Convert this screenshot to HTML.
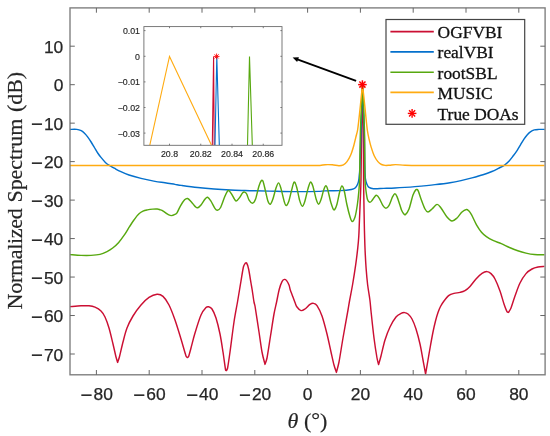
<!DOCTYPE html>
<html><head><meta charset="utf-8"><title>Normalized Spectrum</title>
<style>html,body{margin:0;padding:0;background:#fff}svg{display:block}</style></head>
<body>
<svg width="550" height="436" viewBox="0 0 550 436">
<rect width="550" height="436" fill="#fff"/>
<g fill="none" stroke-width="1.45" stroke-linejoin="round" stroke-linecap="butt">
<path stroke="#CB0F33" d="M70.00,306.60C71.83,306.47 77.83,305.93 81.00,305.80C84.17,305.67 86.67,305.57 89.00,305.80C91.33,306.03 93.00,306.33 95.00,307.20C97.00,308.07 99.33,309.37 101.00,311.00C102.67,312.63 103.77,314.39 105.00,317.00C106.33,319.83 107.67,323.51 109.00,328.00C110.33,332.50 111.83,339.17 113.00,344.00C114.17,348.83 115.23,353.93 116.00,357.00C116.55,359.19 117.28,361.32 117.60,362.40C117.96,361.32 118.82,359.20 119.40,357.00C120.30,353.60 121.73,346.83 123.00,342.00C124.27,337.17 125.33,332.33 127.00,328.00C128.67,323.67 130.67,319.83 133.00,316.00C135.33,312.17 138.33,308.10 141.00,305.00C143.67,301.90 146.33,299.20 149.00,297.40C151.67,295.60 154.67,294.37 157.00,294.20C159.33,294.03 161.10,294.69 163.00,296.40C165.00,298.20 167.10,301.26 169.00,305.00C171.00,308.93 173.00,314.33 175.00,320.00C177.00,325.67 179.17,333.00 181.00,339.00C182.83,345.00 184.95,352.90 186.00,356.00C186.26,356.78 187.04,357.28 187.30,357.60C187.56,357.38 188.36,357.14 188.60,356.50C189.22,354.90 190.07,351.41 191.00,348.00C192.07,344.08 193.33,338.50 195.00,333.00C196.67,327.50 199.17,319.23 201.00,315.00C202.42,311.72 204.73,308.97 206.00,307.60C206.74,306.80 207.60,306.57 208.60,306.80C209.60,307.03 211.11,307.65 212.00,309.00C213.23,310.87 214.80,314.25 216.00,318.00C217.33,322.17 218.83,328.33 220.00,334.00C221.17,339.67 222.07,346.00 223.00,352.00C223.93,358.00 225.00,366.90 225.60,370.00C225.69,370.46 226.40,370.48 226.60,370.60C226.80,370.08 227.40,369.10 227.60,368.00C228.17,364.90 229.11,358.41 230.00,352.00C231.07,344.33 232.75,330.33 234.00,322.00C235.20,313.97 236.58,307.33 237.50,302.00C238.32,297.20 238.92,293.50 239.50,290.00C240.08,286.50 240.39,284.60 241.00,281.00C241.65,277.17 242.73,269.90 243.40,267.00C243.74,265.54 244.47,264.27 245.00,263.60C245.43,263.07 246.22,262.43 246.60,263.00C247.20,263.90 248.06,266.53 248.60,269.00C249.33,272.33 250.40,279.50 251.00,283.00C251.48,285.80 251.76,287.19 252.20,290.00C252.70,293.17 253.53,299.33 254.00,302.00C254.28,303.62 254.73,304.37 255.00,306.00C255.83,311.00 257.83,324.33 259.00,332.00C260.17,339.67 261.00,346.60 262.00,352.00C262.93,357.02 264.40,361.92 265.00,364.40C265.40,363.12 266.49,360.63 267.00,358.00C267.92,353.27 269.33,343.33 270.50,336.00C271.67,328.67 272.98,319.67 274.00,314.00C274.87,309.17 275.73,306.08 276.60,302.00C277.47,297.92 278.30,292.90 279.20,289.50C280.06,286.26 281.13,283.28 282.00,281.60C282.60,280.44 283.63,279.57 284.40,279.40C285.17,279.23 285.96,279.83 286.60,280.60C287.37,281.53 288.38,283.43 289.00,285.00C289.62,286.57 289.80,288.42 290.30,290.00C290.80,291.58 291.32,292.70 292.00,294.50C292.78,296.58 294.17,300.42 295.00,302.50C295.73,304.33 296.00,305.65 297.00,307.00C298.00,308.35 299.67,310.27 301.00,310.60C302.33,310.93 303.58,309.98 305.00,309.00C306.50,307.97 308.57,305.33 310.00,304.40C311.25,303.58 312.43,303.20 313.60,303.40C314.77,303.60 316.10,304.25 317.00,305.60C318.40,307.70 320.47,311.65 322.00,316.00C323.67,320.73 325.50,328.00 327.00,334.00C328.50,340.00 329.83,346.83 331.00,352.00C332.17,357.17 333.10,361.60 334.00,365.00C334.80,368.01 335.92,370.92 336.40,372.40C336.92,370.32 338.19,366.21 339.00,362.00C340.10,356.27 341.50,346.67 343.00,338.00C344.50,329.33 346.88,316.33 348.00,310.00C348.70,306.00 348.98,303.99 349.70,300.00C350.47,295.75 351.62,290.27 352.60,284.50C353.58,278.73 354.73,271.53 355.60,265.40C356.47,259.27 357.27,252.60 357.80,247.70C358.31,243.03 358.55,239.95 358.80,236.00C359.05,232.05 359.10,228.80 359.30,224.00C359.53,218.33 359.92,209.33 360.20,202.00C360.48,194.67 360.83,188.80 361.00,180.00C361.23,168.00 361.35,145.88 361.60,130.00C361.85,114.12 362.32,93.76 362.50,84.70C362.66,93.76 363.12,114.12 363.30,130.00C363.48,145.88 363.50,168.00 363.60,180.00C363.67,188.80 363.78,194.67 363.90,202.00C364.02,209.33 364.18,218.33 364.30,224.00C364.40,228.80 364.47,231.55 364.60,236.00C364.73,240.45 364.85,245.32 365.10,250.70C365.35,256.08 365.68,262.67 366.10,268.30C366.52,273.93 366.97,279.22 367.60,284.50C368.23,289.78 369.33,295.58 369.90,300.00C370.46,304.39 370.53,306.60 371.00,311.00C371.68,317.33 373.00,330.17 374.00,338.00C375.00,345.83 376.23,353.57 377.00,358.00C377.46,360.68 378.28,363.28 378.60,364.60C379.08,362.88 380.10,359.46 381.00,356.00C382.07,351.90 383.50,344.83 385.00,340.00C386.50,335.17 388.17,330.83 390.00,327.00C391.83,323.17 394.17,319.27 396.00,317.00C397.55,315.08 399.57,314.13 401.00,313.40C402.31,312.73 403.43,312.50 404.60,312.60C405.77,312.70 406.89,313.04 408.00,314.00C409.23,315.07 410.79,316.74 412.00,319.00C413.33,321.50 414.69,324.90 416.00,329.00C417.33,333.17 418.83,338.83 420.00,344.00C421.17,349.17 422.07,355.00 423.00,360.00C423.93,365.00 425.08,371.20 425.60,374.00C426.08,371.20 427.18,364.75 428.00,360.00C428.82,355.25 429.67,350.17 430.50,345.50C431.33,340.83 432.17,336.08 433.00,332.00C433.83,327.92 434.67,324.25 435.50,321.00C436.33,317.75 437.17,314.92 438.00,312.50C438.83,310.08 439.50,308.42 440.50,306.50C441.50,304.58 442.58,302.85 444.00,301.00C445.42,299.15 447.33,296.67 449.00,295.40C450.67,294.13 452.17,293.90 454.00,293.40C455.83,292.90 458.17,292.87 460.00,292.40C461.83,291.93 463.33,291.60 465.00,290.60C466.67,289.60 468.20,288.30 470.00,286.40C471.83,284.47 474.00,281.17 476.00,279.00C478.00,276.83 480.17,274.63 482.00,273.40C483.76,272.21 485.50,271.57 487.00,271.60C488.50,271.63 489.69,272.39 491.00,273.60C492.33,274.83 493.77,276.61 495.00,279.00C496.50,281.90 498.50,286.83 500.00,291.00C501.50,295.17 502.83,300.57 504.00,304.00C505.05,307.09 506.23,310.20 507.00,311.60C507.34,312.23 508.28,312.24 508.60,312.40C509.08,311.52 510.27,309.87 511.00,308.00C512.07,305.27 513.50,300.17 515.00,296.00C516.50,291.83 518.17,286.73 520.00,283.00C521.83,279.27 524.00,275.93 526.00,273.60C527.97,271.30 530.00,270.10 532.00,269.00C534.00,267.90 535.93,267.43 538.00,267.00C540.07,266.57 543.33,266.50 544.40,266.40"/>
<path stroke="#0470CC" d="M70.00,129.40C71.13,129.40 74.93,129.18 76.80,129.40C78.62,129.61 79.92,130.07 81.20,130.70C82.48,131.33 83.40,132.13 84.50,133.20C85.60,134.27 86.70,135.63 87.80,137.10C88.90,138.57 90.00,140.27 91.10,142.00C92.20,143.73 93.30,145.67 94.40,147.50C95.50,149.33 96.60,151.35 97.70,153.00C98.80,154.65 99.72,155.83 101.00,157.40C102.28,158.97 104.02,161.07 105.40,162.40C106.78,163.73 107.82,164.43 109.30,165.40C110.78,166.37 112.68,167.30 114.30,168.20C115.92,169.10 117.05,169.90 119.00,170.80C121.45,171.93 125.33,173.73 129.00,175.00C132.67,176.27 136.67,177.33 141.00,178.40C145.33,179.47 151.00,180.67 155.00,181.40C158.97,182.13 161.67,182.30 165.00,182.80C168.33,183.30 172.27,183.97 175.00,184.40C177.56,184.81 178.83,185.05 181.40,185.40C185.18,185.92 192.25,186.90 197.70,187.50C203.15,188.10 208.63,188.58 214.10,189.00C219.57,189.42 225.35,189.75 230.50,190.00C235.65,190.25 240.92,190.37 245.00,190.50C249.00,190.63 251.00,190.70 255.00,190.80C259.08,190.90 263.70,190.98 269.50,191.10C276.02,191.23 285.92,191.55 294.10,191.60C302.28,191.65 313.45,191.52 318.60,191.40C321.17,191.34 322.43,191.00 325.00,190.90C328.52,190.77 335.30,190.83 339.70,190.60C344.10,190.37 348.83,189.93 351.40,189.50C352.97,189.23 354.07,188.87 355.10,188.00C356.13,187.13 356.95,185.88 357.60,184.30C358.25,182.72 358.71,180.87 359.00,178.50C359.40,175.28 359.78,170.41 360.00,165.00C360.33,156.92 360.57,143.38 361.00,130.00C361.43,116.62 362.28,93.76 362.60,84.70C362.92,93.76 363.83,116.62 364.20,130.00C364.57,143.38 364.60,156.92 364.80,165.00C364.93,170.40 365.05,175.28 365.40,178.50C365.66,180.88 366.30,182.83 366.90,184.30C367.45,185.66 367.90,186.57 369.00,187.30C370.10,188.03 371.62,188.56 373.50,188.70C375.95,188.88 380.12,188.52 383.70,188.40C387.28,188.28 391.45,188.17 395.00,188.00C398.55,187.83 401.67,187.63 405.00,187.40C408.33,187.17 411.00,186.97 415.00,186.60C420.00,186.13 429.17,185.25 435.00,184.60C440.83,183.95 445.67,183.37 450.00,182.70C454.33,182.03 457.33,181.40 461.00,180.60C464.67,179.80 468.33,178.87 472.00,177.90C475.67,176.93 479.68,175.87 483.00,174.80C486.32,173.73 489.32,172.58 491.90,171.50C494.48,170.42 496.45,169.33 498.50,168.30C500.55,167.27 502.47,166.47 504.20,165.30C505.93,164.13 507.38,162.88 508.90,161.30C510.42,159.72 511.92,157.63 513.30,155.80C514.68,153.97 516.00,152.13 517.20,150.30C518.40,148.47 519.40,146.63 520.50,144.80C521.60,142.97 522.70,140.95 523.80,139.30C524.90,137.65 526.00,136.15 527.10,134.90C528.20,133.65 529.20,132.63 530.40,131.80C531.60,130.97 532.92,130.30 534.30,129.90C535.68,129.50 536.97,129.48 538.70,129.40C540.43,129.32 543.70,129.40 544.70,129.40"/>
<path stroke="#57A80F" d="M70.00,254.60C71.83,254.73 77.50,255.27 81.00,255.40C84.50,255.53 87.83,255.57 91.00,255.40C94.17,255.23 97.33,255.03 100.00,254.40C102.67,253.77 104.88,252.67 107.00,251.60C109.12,250.53 110.75,249.53 112.70,248.00C114.65,246.47 116.78,244.53 118.70,242.40C120.62,240.27 122.37,237.87 124.20,235.20C126.03,232.53 128.05,228.97 129.70,226.40C131.35,223.83 132.63,221.82 134.10,219.80C135.57,217.78 137.02,215.73 138.50,214.30C139.98,212.87 141.52,211.93 143.00,211.20C144.48,210.47 145.75,210.25 147.40,209.90C149.05,209.55 151.25,209.25 152.90,209.10C154.55,208.95 156.12,208.90 157.30,209.00C158.41,209.09 159.22,209.47 160.00,209.70C160.78,209.93 161.25,210.00 162.00,210.40C162.83,210.85 164.00,211.73 165.00,212.40C166.00,213.07 166.92,213.87 168.00,214.40C169.08,214.93 170.33,215.60 171.50,215.60C172.67,215.60 174.08,214.87 175.00,214.40C175.91,213.94 176.45,213.66 177.00,212.80C177.92,211.37 179.23,207.97 180.50,205.80C181.77,203.63 183.42,201.02 184.60,199.80C185.51,198.86 186.50,198.18 187.60,198.50C188.70,198.82 189.92,200.35 191.20,201.70C192.48,203.05 194.22,205.58 195.30,206.60C196.08,207.33 196.75,208.07 197.70,207.80C198.65,207.53 199.89,206.32 201.00,205.00C202.23,203.53 204.00,200.28 205.10,199.00C205.89,198.08 206.65,196.98 207.60,197.30C208.55,197.62 209.73,199.29 210.80,200.90C212.02,202.73 213.80,206.75 214.90,208.30C215.63,209.32 216.45,210.33 217.40,210.20C218.35,210.07 219.80,208.97 220.60,207.50C221.82,205.27 223.60,199.45 224.70,196.80C225.58,194.67 226.52,192.63 227.20,191.60C227.62,190.97 228.12,190.27 228.80,190.60C229.48,190.93 230.43,192.30 231.30,193.60C232.27,195.05 233.73,198.08 234.60,199.30C235.18,200.11 235.68,201.18 236.50,200.90C237.32,200.62 238.47,198.97 239.50,197.60C240.53,196.23 241.83,193.62 242.70,192.70C243.27,192.09 244.03,191.88 244.70,192.10C245.37,192.32 246.17,193.03 246.70,194.00C247.43,195.33 248.15,198.57 249.10,200.10C250.05,201.63 251.35,203.28 252.40,203.20C253.45,203.12 254.73,201.35 255.40,199.60C256.48,196.77 257.90,189.38 258.90,186.20C259.65,183.82 260.72,181.32 261.40,180.50C261.86,179.95 262.74,180.63 263.00,181.30C263.68,183.07 264.68,187.83 265.50,191.10C266.32,194.37 267.08,198.72 267.90,200.90C268.48,202.45 269.58,204.47 270.40,204.20C271.22,203.93 272.08,201.36 272.80,199.30C273.75,196.57 275.13,190.53 276.10,187.80C276.83,185.73 277.78,182.77 278.60,182.90C279.42,183.03 280.28,186.23 281.00,188.60C281.95,191.73 283.43,198.88 284.30,201.70C284.80,203.32 285.43,205.63 286.20,205.50C286.97,205.37 288.19,202.91 288.90,200.90C289.80,198.37 290.73,193.43 291.60,190.30C292.47,187.17 293.27,182.65 294.10,182.10C294.93,181.55 295.96,184.89 296.60,187.00C297.55,190.13 298.85,197.70 299.80,200.90C300.47,203.15 301.48,206.07 302.30,206.20C303.12,206.33 304.07,203.64 304.70,201.70C305.65,198.77 307.03,191.87 308.00,188.60C308.79,185.93 309.68,182.50 310.50,182.10C311.32,181.70 312.30,184.40 312.90,186.20C313.85,189.07 315.25,196.30 316.20,199.30C316.86,201.38 317.78,204.20 318.60,204.20C319.42,204.20 320.36,201.37 321.10,199.30C321.93,196.98 322.82,192.55 323.60,190.30C324.26,188.41 325.12,185.93 325.80,185.80C326.48,185.67 327.22,187.91 327.70,189.50C328.55,192.30 329.87,199.20 330.90,202.60C331.82,205.62 332.93,209.50 333.90,209.90C334.87,210.30 336.01,207.15 336.70,205.00C337.67,201.97 338.83,194.88 339.70,191.70C340.35,189.31 341.17,186.13 341.90,185.90C342.63,185.67 343.59,188.40 344.10,190.30C344.95,193.48 346.02,200.60 347.00,205.00C347.98,209.40 349.13,213.97 350.00,216.70C350.63,218.68 351.35,221.40 352.20,221.40C353.05,221.40 354.44,218.81 355.10,216.70C355.95,213.97 356.68,209.17 357.30,205.00C357.92,200.83 358.42,195.87 358.80,191.70C359.18,187.53 359.47,184.69 359.60,180.00C359.87,170.05 359.92,147.88 360.40,132.00C360.88,116.12 362.08,94.16 362.50,84.70C362.90,94.16 364.08,116.12 364.50,132.00C364.92,147.88 364.73,170.05 365.00,180.00C365.13,184.70 365.67,188.40 366.10,191.70C366.53,194.97 366.98,198.03 367.60,199.80C368.04,201.06 369.07,202.17 369.80,202.30C370.53,202.43 371.27,201.44 372.00,200.60C372.85,199.62 374.12,197.27 374.90,196.40C375.45,195.79 375.97,195.07 376.70,195.40C377.43,195.73 378.47,197.05 379.30,198.40C380.35,200.12 381.90,204.05 383.00,205.70C383.86,207.00 384.92,208.30 385.90,208.30C386.88,208.30 388.10,207.07 388.90,205.70C390.00,203.80 391.52,198.90 392.50,196.90C393.20,195.49 394.05,193.75 394.80,193.70C395.55,193.65 396.40,195.27 397.00,196.60C397.85,198.48 399.15,202.77 399.90,205.00C400.57,206.99 400.90,208.58 401.50,210.00C402.10,211.42 402.85,212.73 403.50,213.50C404.07,214.17 404.72,215.16 405.40,214.60C406.32,213.85 408.04,211.48 409.00,209.00C410.27,205.73 411.83,198.23 413.00,195.00C413.84,192.68 415.17,190.37 416.00,189.60C416.63,189.02 417.60,189.64 418.00,190.40C418.83,191.97 419.83,195.90 421.00,199.00C422.17,202.10 423.83,206.83 425.00,209.00C425.80,210.49 426.83,212.00 428.00,212.00C429.17,212.00 430.50,210.27 432.00,209.00C433.50,207.73 435.50,204.57 437.00,204.40C438.50,204.23 439.66,206.31 441.00,208.00C442.67,210.10 445.17,214.83 447.00,217.00C448.65,218.96 450.33,220.83 452.00,221.00C453.67,221.17 455.33,219.50 457.00,218.00C458.67,216.50 460.43,213.42 462.00,212.00C463.50,210.64 465.32,209.73 466.40,209.50C467.33,209.30 467.84,209.92 468.50,210.60C469.37,211.50 470.56,213.05 471.60,214.90C472.93,217.27 474.85,221.92 476.50,224.80C478.15,227.68 479.85,230.23 481.50,232.20C483.15,234.17 484.48,235.23 486.40,236.60C488.32,237.97 490.52,239.22 493.00,240.40C495.48,241.58 498.55,242.52 501.30,243.70C504.05,244.88 506.75,246.32 509.50,247.50C512.25,248.68 515.05,249.87 517.80,250.80C520.55,251.73 523.25,252.48 526.00,253.10C528.75,253.72 531.23,254.22 534.30,254.50C537.37,254.78 542.72,254.75 544.40,254.80"/>
<path stroke="#FFAB12" d="M70.00,165.40C91.67,165.40 158.33,165.40 200.00,165.40C241.67,165.40 299.13,165.52 320.00,165.40C322.10,165.39 323.15,164.80 325.20,164.70C327.25,164.60 330.00,164.63 332.30,164.80C334.60,164.97 337.15,165.70 339.00,165.70C340.80,165.70 342.07,165.48 343.40,164.80C344.73,164.12 345.85,163.15 347.00,161.60C348.22,159.97 349.60,157.57 350.70,155.00C351.80,152.43 352.75,149.15 353.60,146.20C354.45,143.25 355.13,140.00 355.80,137.30C356.47,134.60 357.13,132.97 357.60,130.00C358.22,126.12 358.93,119.10 359.50,114.00C360.07,108.90 360.50,104.28 361.00,99.40C361.50,94.52 362.20,87.64 362.50,84.70C362.82,87.64 363.58,94.52 364.10,99.40C364.62,104.28 365.07,108.90 365.60,114.00C366.13,119.10 366.73,125.87 367.30,130.00C367.79,133.55 368.33,135.87 369.00,138.80C369.67,141.73 370.43,144.78 371.30,147.60C372.17,150.42 373.10,153.37 374.20,155.70C375.30,158.03 376.68,160.13 377.90,161.60C379.08,163.02 380.28,163.87 381.50,164.50C382.72,165.13 383.85,165.28 385.20,165.40C386.55,165.52 387.88,165.33 389.60,165.20C391.32,165.07 393.13,164.60 395.50,164.60C398.07,164.60 401.19,165.08 405.00,165.20C409.08,165.33 414.00,165.39 420.00,165.40C443.23,165.43 523.67,165.40 544.40,165.40"/>
</g>
<g stroke="#ff0000" stroke-width="1.5"><line x1="358.10" y1="84.60" x2="366.70" y2="84.60"/><line x1="359.36" y1="81.56" x2="365.44" y2="87.64"/><line x1="362.40" y1="80.30" x2="362.40" y2="88.90"/><line x1="365.44" y1="81.56" x2="359.36" y2="87.64"/></g>
<g stroke="#7c7c7c" stroke-width="1.35" fill="none">
<rect x="70.00" y="7.90" width="475.10" height="366.90"/>
</g>
<g stroke="#666" stroke-width="1" fill="none">
<line x1="96.40" y1="374.80" x2="96.40" y2="370.00"/>
<line x1="96.40" y1="7.90" x2="96.40" y2="12.70"/>
<line x1="149.20" y1="374.80" x2="149.20" y2="370.00"/>
<line x1="149.20" y1="7.90" x2="149.20" y2="12.70"/>
<line x1="202.00" y1="374.80" x2="202.00" y2="370.00"/>
<line x1="202.00" y1="7.90" x2="202.00" y2="12.70"/>
<line x1="254.80" y1="374.80" x2="254.80" y2="370.00"/>
<line x1="254.80" y1="7.90" x2="254.80" y2="12.70"/>
<line x1="307.60" y1="374.80" x2="307.60" y2="370.00"/>
<line x1="307.60" y1="7.90" x2="307.60" y2="12.70"/>
<line x1="360.40" y1="374.80" x2="360.40" y2="370.00"/>
<line x1="360.40" y1="7.90" x2="360.40" y2="12.70"/>
<line x1="413.20" y1="374.80" x2="413.20" y2="370.00"/>
<line x1="413.20" y1="7.90" x2="413.20" y2="12.70"/>
<line x1="466.00" y1="374.80" x2="466.00" y2="370.00"/>
<line x1="466.00" y1="7.90" x2="466.00" y2="12.70"/>
<line x1="518.80" y1="374.80" x2="518.80" y2="370.00"/>
<line x1="518.80" y1="7.90" x2="518.80" y2="12.70"/>
<line x1="70.00" y1="354.00" x2="74.80" y2="354.00"/>
<line x1="545.10" y1="354.00" x2="540.30" y2="354.00"/>
<line x1="70.00" y1="315.52" x2="74.80" y2="315.52"/>
<line x1="545.10" y1="315.52" x2="540.30" y2="315.52"/>
<line x1="70.00" y1="277.05" x2="74.80" y2="277.05"/>
<line x1="545.10" y1="277.05" x2="540.30" y2="277.05"/>
<line x1="70.00" y1="238.57" x2="74.80" y2="238.57"/>
<line x1="545.10" y1="238.57" x2="540.30" y2="238.57"/>
<line x1="70.00" y1="200.10" x2="74.80" y2="200.10"/>
<line x1="545.10" y1="200.10" x2="540.30" y2="200.10"/>
<line x1="70.00" y1="161.62" x2="74.80" y2="161.62"/>
<line x1="545.10" y1="161.62" x2="540.30" y2="161.62"/>
<line x1="70.00" y1="123.15" x2="74.80" y2="123.15"/>
<line x1="545.10" y1="123.15" x2="540.30" y2="123.15"/>
<line x1="70.00" y1="84.68" x2="74.80" y2="84.68"/>
<line x1="545.10" y1="84.68" x2="540.30" y2="84.68"/>
<line x1="70.00" y1="46.20" x2="74.80" y2="46.20"/>
<line x1="545.10" y1="46.20" x2="540.30" y2="46.20"/>
</g>
<g font-family="'Liberation Sans', sans-serif" font-size="17.4" fill="#262626" stroke="#262626" stroke-width="0.25">
<text x="96.70" y="400.4" text-anchor="middle"><tspan font-size="20.4" dy="1.5">−</tspan><tspan dy="-1.5" dx="1.0">80</tspan></text>
<text x="149.50" y="400.4" text-anchor="middle"><tspan font-size="20.4" dy="1.5">−</tspan><tspan dy="-1.5" dx="1.0">60</tspan></text>
<text x="202.30" y="400.4" text-anchor="middle"><tspan font-size="20.4" dy="1.5">−</tspan><tspan dy="-1.5" dx="1.0">40</tspan></text>
<text x="255.10" y="400.4" text-anchor="middle"><tspan font-size="20.4" dy="1.5">−</tspan><tspan dy="-1.5" dx="1.0">20</tspan></text>
<text x="307.60" y="400.4" text-anchor="middle">0</text>
<text x="360.40" y="400.4" text-anchor="middle">20</text>
<text x="413.20" y="400.4" text-anchor="middle">40</text>
<text x="466.00" y="400.4" text-anchor="middle">60</text>
<text x="518.80" y="400.4" text-anchor="middle">80</text>
<text x="63.3" y="360.80" text-anchor="end"><tspan font-size="20.4" dy="1.5">−</tspan><tspan dy="-1.5" dx="1.0">70</tspan></text>
<text x="63.3" y="322.32" text-anchor="end"><tspan font-size="20.4" dy="1.5">−</tspan><tspan dy="-1.5" dx="1.0">60</tspan></text>
<text x="63.3" y="283.85" text-anchor="end"><tspan font-size="20.4" dy="1.5">−</tspan><tspan dy="-1.5" dx="1.0">50</tspan></text>
<text x="63.3" y="245.38" text-anchor="end"><tspan font-size="20.4" dy="1.5">−</tspan><tspan dy="-1.5" dx="1.0">40</tspan></text>
<text x="63.3" y="206.90" text-anchor="end"><tspan font-size="20.4" dy="1.5">−</tspan><tspan dy="-1.5" dx="1.0">30</tspan></text>
<text x="63.3" y="168.43" text-anchor="end"><tspan font-size="20.4" dy="1.5">−</tspan><tspan dy="-1.5" dx="1.0">20</tspan></text>
<text x="63.3" y="129.95" text-anchor="end"><tspan font-size="20.4" dy="1.5">−</tspan><tspan dy="-1.5" dx="1.0">10</tspan></text>
<text x="63.3" y="91.48" text-anchor="end">0</text>
<text x="63.3" y="53.00" text-anchor="end">10</text>
</g>
<g font-family="'Liberation Serif', serif" font-size="22" fill="#262626" stroke="#262626" stroke-width="0.2">
<text x="307.5" y="427.8" text-anchor="middle"><tspan font-style="italic">θ</tspan> (<tspan dy="-0.7">°</tspan><tspan dy="0.7">)</tspan></text>
<text transform="translate(21.5,258.80) rotate(-90)" text-anchor="middle" textLength="101.20" lengthAdjust="spacing">Normalized</text>
<text transform="translate(21.5,160.60) rotate(-90)" text-anchor="middle" textLength="83.85" lengthAdjust="spacing">Spectrum</text>
<text transform="translate(21.5,91.85) rotate(-90)" text-anchor="middle" textLength="40.10" lengthAdjust="spacing">(dB)</text>
</g>
<rect x="143.90" y="26.60" width="138.10" height="118.70" fill="#fff"/>
<g fill="none" stroke-width="1.1" stroke-linejoin="miter">
<path stroke="#CB0F33" d="M212.3,145.1L213.6,56.5L214.2,145.1"/>
<path stroke="#0470CC" d="M215,145.1L216.8,56.5L219.3,145.1"/>
<path stroke="#57A80F" d="M247.5,145.1L249.5,56.5L252.3,145.1"/>
<path stroke="#FFAB12" d="M149.8,145.1L169.5,56.5L211.4,145.1"/>
</g>
<g stroke="#ff0000" stroke-width="0.9"><line x1="213.70" y1="56.40" x2="219.50" y2="56.40"/><line x1="214.55" y1="54.35" x2="218.65" y2="58.45"/><line x1="216.60" y1="53.50" x2="216.60" y2="59.30"/><line x1="218.65" y1="54.35" x2="214.55" y2="58.45"/></g>
<g stroke="#6c6c6c" stroke-width="0.9" fill="none">
<rect x="143.90" y="26.60" width="138.10" height="118.70"/>
<line x1="169.50" y1="145.30" x2="169.50" y2="143.70"/>
<line x1="169.50" y1="26.60" x2="169.50" y2="28.20"/>
<line x1="200.75" y1="145.30" x2="200.75" y2="143.70"/>
<line x1="200.75" y1="26.60" x2="200.75" y2="28.20"/>
<line x1="232.00" y1="145.30" x2="232.00" y2="143.70"/>
<line x1="232.00" y1="26.60" x2="232.00" y2="28.20"/>
<line x1="263.25" y1="145.30" x2="263.25" y2="143.70"/>
<line x1="263.25" y1="26.60" x2="263.25" y2="28.20"/>
<line x1="143.90" y1="30.60" x2="145.50" y2="30.60"/>
<line x1="282.00" y1="30.60" x2="280.40" y2="30.60"/>
<line x1="143.90" y1="56.30" x2="145.50" y2="56.30"/>
<line x1="282.00" y1="56.30" x2="280.40" y2="56.30"/>
<line x1="143.90" y1="81.90" x2="145.50" y2="81.90"/>
<line x1="282.00" y1="81.90" x2="280.40" y2="81.90"/>
<line x1="143.90" y1="107.50" x2="145.50" y2="107.50"/>
<line x1="282.00" y1="107.50" x2="280.40" y2="107.50"/>
<line x1="143.90" y1="133.10" x2="145.50" y2="133.10"/>
<line x1="282.00" y1="133.10" x2="280.40" y2="133.10"/>
</g>
<g font-family="'Liberation Sans', sans-serif" font-size="8.8" fill="#262626" stroke="#262626" stroke-width="0.15">
<text x="169.50" y="157.4" text-anchor="middle">20.8</text>
<text x="200.75" y="157.4" text-anchor="middle">20.82</text>
<text x="232.00" y="157.4" text-anchor="middle">20.84</text>
<text x="263.25" y="157.4" text-anchor="middle">20.86</text>
<text x="140" y="34.10" text-anchor="end">0.01</text>
<text x="140" y="59.80" text-anchor="end">0</text>
<text x="140" y="85.40" text-anchor="end">−0.01</text>
<text x="140" y="111.00" text-anchor="end">−0.02</text>
<text x="140" y="136.60" text-anchor="end">−0.03</text>
</g>
<line x1="356.1" y1="80.9" x2="296" y2="58.9" stroke="#000" stroke-width="1.8"/>
<polygon points="292.60,57.60 297.15,62.04 298.94,57.15" fill="#000"/>
<rect x="386.00" y="19.50" width="138.70" height="104.80" fill="#fff" stroke="#444" stroke-width="1.2"/>
<g stroke-width="1.6">
<line x1="390.4" y1="31.60" x2="433.8" y2="31.60" stroke="#CB0F33"/>
<line x1="390.4" y1="51.90" x2="433.8" y2="51.90" stroke="#0470CC"/>
<line x1="390.4" y1="72.20" x2="433.8" y2="72.20" stroke="#57A80F"/>
<line x1="390.4" y1="92.40" x2="433.8" y2="92.40" stroke="#FFAB12"/>
</g>
<g stroke="#ff0000" stroke-width="1.4"><line x1="407.80" y1="113.40" x2="416.40" y2="113.40"/><line x1="409.06" y1="110.36" x2="415.14" y2="116.44"/><line x1="412.10" y1="109.10" x2="412.10" y2="117.70"/><line x1="415.14" y1="110.36" x2="409.06" y2="116.44"/></g>
<g font-family="'Liberation Serif', serif" font-size="17.4" fill="#111" stroke="#111" stroke-width="0.3">
<text x="437.6" y="38.00">OGFVBI</text>
<text x="437.6" y="58.30">realVBI</text>
<text x="437.6" y="78.60">rootSBL</text>
<text x="437.6" y="98.80">MUSIC</text>
<text x="437.6" y="119.80">True DOAs</text>
</g>
</svg>
</body></html>
